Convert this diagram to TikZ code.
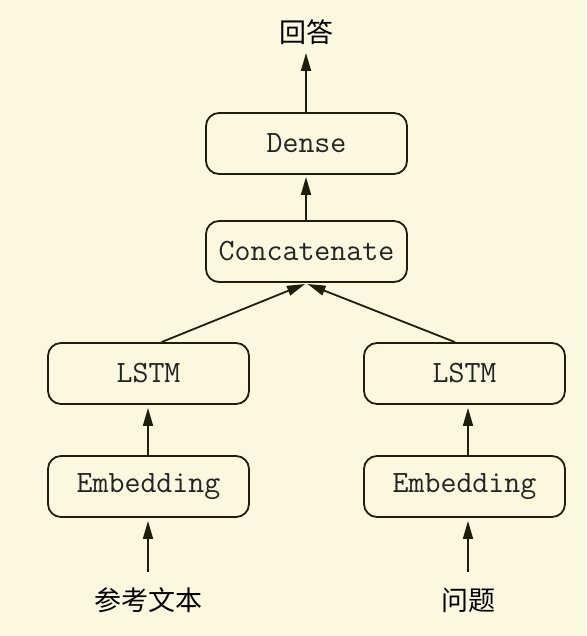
\documentclass[tikz,border=0pt]{standalone}
\usepackage{fontspec}
\newfontfamily\cjk{Noto Sans CJK SC}
\usetikzlibrary{arrows.meta}
\definecolor{bg}{RGB}{250,248,223}
\definecolor{ink}{RGB}{30,30,12}
\definecolor{txt}{RGB}{35,35,35}
\begin{document}
\begin{tikzpicture}[x=1pt,y=-1pt,
  layer/.style={draw=ink,line width=1.8pt,rounded corners=13pt,minimum width=201pt,minimum height=61pt,
    inner sep=0pt,font=\fontsize{31}{33}\ttfamily,text=txt},
  lbl/.style={font=\fontsize{27}{30}\cjk,text=black,inner sep=0pt},
  arr/.style={draw=ink,line width=1.8pt,-{Triangle[length=18pt,width=10pt]}}]
\fill[bg] (0,0) rectangle (586,636);
\useasboundingbox (0,0) rectangle (586,636);
\node[lbl] (ans) at (306,32) {回答};
\coordinate (anstip) at (306,53);
\node[layer] (dense) at (306.5,143.5) {Dense};
\node[layer] (concat) at (306.5,251.5) {Concatenate};
\node[layer] (lstmL) at (148.5,373.5) {LSTM};
\node[layer] (lstmR) at (464.5,373.5) {LSTM};
\node[layer] (embL) at (148.5,486.5) {Embedding};
\node[layer] (embR) at (464.5,486.5) {Embedding};
\node[lbl] (ctx) at (148,600) {参考文本};
\node[lbl] (q) at (468,600) {问题};
\coordinate (ctxtop) at (148,572);
\coordinate (qtop) at (468,572);
\coordinate (cL) at (305,284);
\coordinate (cR) at (307.5,284);
\draw[arr] (anstip |- dense.north) -- (anstip);
\draw[arr,shorten >=2pt] (anstip |- concat.north) -- (anstip |- dense.south);
\draw[arr] ([xshift=13pt]lstmL.north) -- (cL);
\draw[arr] ([xshift=-9.5pt]lstmR.north) -- (cR);
\draw[arr,shorten >=3pt] (ctxtop |- embL.north) -- (ctxtop |- lstmL.south);
\draw[arr,shorten >=3pt] (qtop |- embR.north) -- (qtop |- lstmR.south);
\draw[arr,shorten >=3pt] (ctxtop) -- (ctxtop |- embL.south);
\draw[arr,shorten >=3pt] (qtop) -- (qtop |- embR.south);
\end{tikzpicture}
\end{document}
